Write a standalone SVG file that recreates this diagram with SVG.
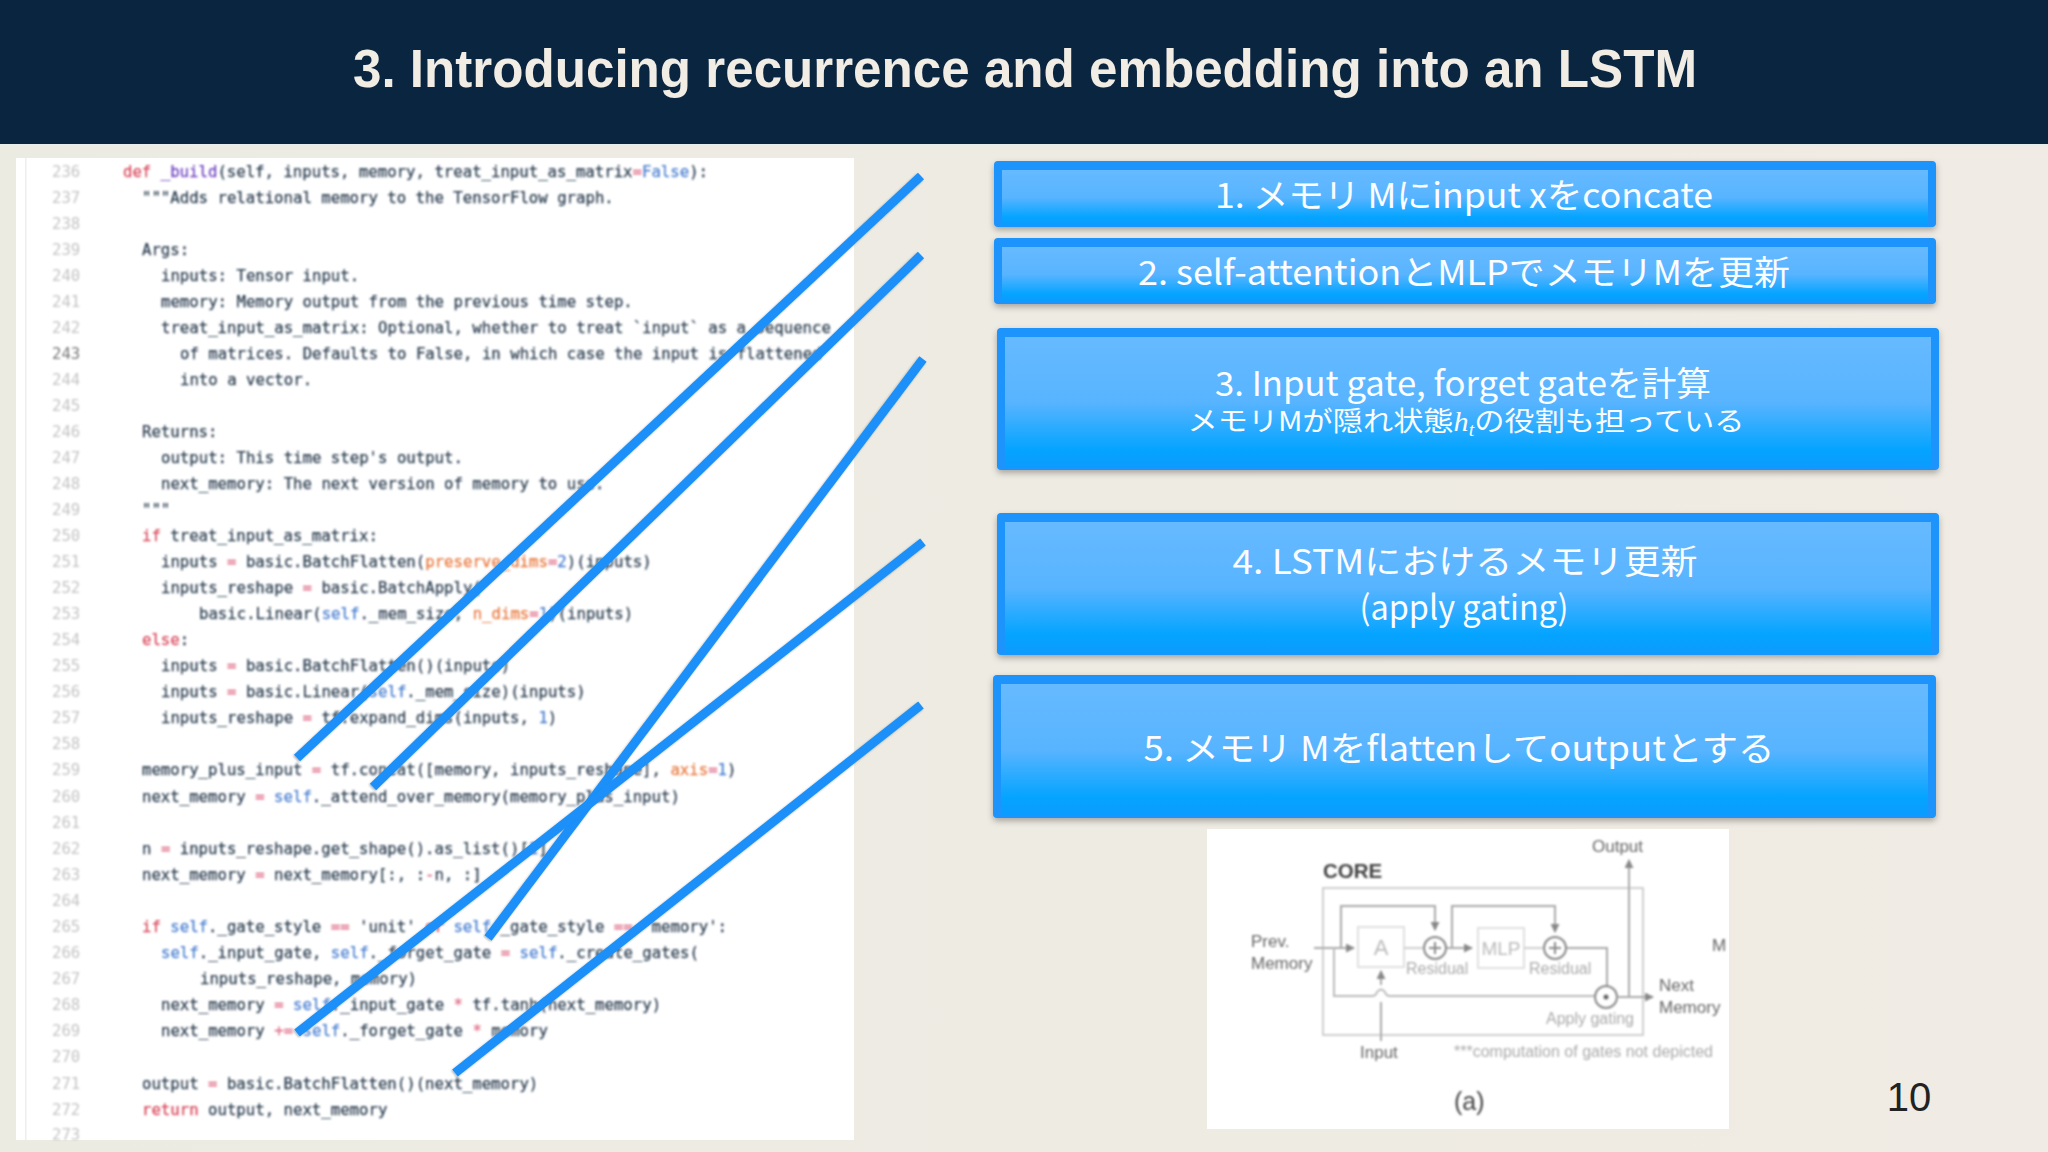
<svg xmlns="http://www.w3.org/2000/svg" width="2048" height="1152" viewBox="0 0 2048 1152">
<style>
.c{font-family:"DejaVu Sans Mono","Liberation Mono",monospace;font-size:15.68px;fill:#2c3e50;stroke:#2c3e50;stroke-width:.25}
.ln{font-family:"DejaVu Sans Mono","Liberation Mono",monospace;font-size:15.68px;fill:#c4c4c4}
.k{fill:#d9485a;stroke:#d9485a}.s{fill:#4a7fd0;stroke:#4a7fd0}.p{fill:#e8793f;stroke:#e8793f}.f{fill:#6f42c1;stroke:#6f42c1}.o{fill:#e0708a;stroke:#e0708a}
.bt{font-family:"Noto Sans CJK JP","Noto Sans",sans-serif;font-weight:400;fill:#fbfdff;text-anchor:middle;font-size:34px}
.d{font-family:"Liberation Sans",Arial,sans-serif;fill:#666;font-size:17px}
.l{font-family:"Liberation Sans",Arial,sans-serif;fill:#aaa;font-size:16px}
.w{fill:none;stroke:#aaa;stroke-width:2}
.lt{fill:none;stroke:#cfcfcf;stroke-width:2}
.vl{fill:none;stroke:#e0e0e0;stroke-width:2}
.r{fill:none;stroke:#8a8a8a;stroke-width:2}
.bl{fill:none;stroke:#1a90f8;stroke-width:9}
.o1{fill:#1a94fb}
</style>
<defs>
<linearGradient id="bg" x1="0" y1="0" x2="1" y2="0"><stop offset="0" stop-color="#ecebe2"/><stop offset="1" stop-color="#f0ebe4"/></linearGradient>
<linearGradient id="bx" x1="0" y1="0" x2="0" y2="1"><stop offset="0" stop-color="#66baff"/><stop offset=".5" stop-color="#58b4ff"/><stop offset=".86" stop-color="#04a4ff"/><stop offset="1" stop-color="#0c9bfe"/></linearGradient>
<filter id="blur" x="-2%" y="-2%" width="104%" height="104%"><feGaussianBlur stdDeviation="0.8"/></filter>
<filter id="blur2" x="-2%" y="-2%" width="104%" height="104%"><feGaussianBlur stdDeviation="0.9"/></filter>
<filter id="sh" x="-3%" y="-10%" width="106%" height="125%"><feDropShadow dx="0" dy="3" stdDeviation="3" flood-color="#000" flood-opacity=".3"/></filter>
<filter id="lsh" x="-5%" y="-5%" width="110%" height="110%"><feDropShadow dx="-1" dy="1" stdDeviation="1.2" flood-color="#000" flood-opacity=".3"/></filter>
<marker id="a" viewBox="0 0 10 10" refX="9" refY="5" markerWidth="4.5" markerHeight="4.5" orient="auto"><path d="M0 0L10 5L0 10Z" fill="#888"/></marker>
</defs>
<rect width="2048" height="1152" fill="url(#bg)"/>
<g id="header"><rect width="2048" height="144" fill="#0a2540"/><rect y="144" width="2048" height="2" fill="#e6edea"/>
<text x="1025" y="87" text-anchor="middle" font-family="Liberation Sans,Arial,sans-serif" font-weight="700" font-size="53" fill="#f1ede5" textLength="1344" lengthAdjust="spacingAndGlyphs">3. Introducing recurrence and embedding into an LSTM</text></g>

<g id="code-panel">
<rect x="16" y="158" width="838" height="982" fill="#fff"/>
<rect x="25" y="158" width="1.5" height="982" fill="#eee"/>
<g filter="url(#blur)">
<text class="ln" x="52" y="177">236</text>
<text class="ln" x="52" y="203">237</text>
<text class="ln" x="52" y="229">238</text>
<text class="ln" x="52" y="255">239</text>
<text class="ln" x="52" y="281">240</text>
<text class="ln" x="52" y="307">241</text>
<text class="ln" x="52" y="333">242</text>
<text class="ln" x="52" y="359" style="fill:#777">243</text>
<text class="ln" x="52" y="385">244</text>
<text class="ln" x="52" y="411">245</text>
<text class="ln" x="52" y="437">246</text>
<text class="ln" x="52" y="463">247</text>
<text class="ln" x="52" y="489">248</text>
<text class="ln" x="52" y="515">249</text>
<text class="ln" x="52" y="541">250</text>
<text class="ln" x="52" y="567">251</text>
<text class="ln" x="52" y="593">252</text>
<text class="ln" x="52" y="619">253</text>
<text class="ln" x="52" y="645">254</text>
<text class="ln" x="52" y="671">255</text>
<text class="ln" x="52" y="697">256</text>
<text class="ln" x="52" y="723">257</text>
<text class="ln" x="52" y="749">258</text>
<text class="ln" x="52" y="775">259</text>
<text class="ln" x="52" y="802">260</text>
<text class="ln" x="52" y="828">261</text>
<text class="ln" x="52" y="854">262</text>
<text class="ln" x="52" y="880">263</text>
<text class="ln" x="52" y="906">264</text>
<text class="ln" x="52" y="932">265</text>
<text class="ln" x="52" y="958">266</text>
<text class="ln" x="52" y="984">267</text>
<text class="ln" x="52" y="1010">268</text>
<text class="ln" x="52" y="1036">269</text>
<text class="ln" x="52" y="1062">270</text>
<text class="ln" x="52" y="1089">271</text>
<text class="ln" x="52" y="1115">272</text>
<text class="ln" x="52" y="1140">273</text>
<text class="c" x="123" y="177"><tspan class="k">def</tspan> <tspan class="f">_build</tspan>(self, inputs, memory, treat_input_as_matrix<tspan class="o">=</tspan><tspan class="s">False</tspan>):</text>
<text class="c" x="142" y="203">"""Adds relational memory to the TensorFlow graph.</text>
<text class="c" x="142" y="255">Args:</text>
<text class="c" x="161" y="281">inputs: Tensor input.</text>
<text class="c" x="161" y="307">memory: Memory output from the previous time step.</text>
<text class="c" x="161" y="333">treat_input_as_matrix: Optional, whether to treat `input` as a sequence</text>
<text class="c" x="180" y="359">of matrices. Defaults to False, in which case the input is flattened</text>
<text class="c" x="180" y="385">into a vector.</text>
<text class="c" x="142" y="437">Returns:</text>
<text class="c" x="161" y="463">output: This time step's output.</text>
<text class="c" x="161" y="489">next_memory: The next version of memory to use.</text>
<text class="c" x="142" y="515">"""</text>
<text class="c" x="142" y="541"><tspan class="k">if</tspan> treat_input_as_matrix:</text>
<text class="c" x="161" y="567">inputs <tspan class="o">=</tspan> basic.BatchFlatten(<tspan class="p">preserve_dims</tspan><tspan class="o">=</tspan><tspan class="s">2</tspan>)(inputs)</text>
<text class="c" x="161" y="593">inputs_reshape <tspan class="o">=</tspan> basic.BatchApply(</text>
<text class="c" x="199" y="619">basic.Linear(<tspan class="s">self</tspan>._mem_size, <tspan class="p">n_dims</tspan><tspan class="o">=</tspan><tspan class="s">1</tspan>)(inputs)</text>
<text class="c" x="142" y="645"><tspan class="k">else</tspan>:</text>
<text class="c" x="161" y="671">inputs <tspan class="o">=</tspan> basic.BatchFlatten()(inputs)</text>
<text class="c" x="161" y="697">inputs <tspan class="o">=</tspan> basic.Linear(<tspan class="s">self</tspan>._mem_size)(inputs)</text>
<text class="c" x="161" y="723">inputs_reshape <tspan class="o">=</tspan> tf.expand_dims(inputs, <tspan class="s">1</tspan>)</text>
<text class="c" x="142" y="775">memory_plus_input <tspan class="o">=</tspan> tf.concat([memory, inputs_reshape], <tspan class="p">axis</tspan><tspan class="o">=</tspan><tspan class="s">1</tspan>)</text>
<text class="c" x="142" y="802">next_memory <tspan class="o">=</tspan> <tspan class="s">self</tspan>._attend_over_memory(memory_plus_input)</text>
<text class="c" x="142" y="854">n <tspan class="o">=</tspan> inputs_reshape.get_shape().as_list()[<tspan class="s">1</tspan>]</text>
<text class="c" x="142" y="880">next_memory <tspan class="o">=</tspan> next_memory[:, :<tspan class="o">-</tspan>n, :]</text>
<text class="c" x="142" y="932"><tspan class="k">if</tspan> <tspan class="s">self</tspan>._gate_style <tspan class="o">==</tspan> 'unit' <tspan class="k">or</tspan> <tspan class="s">self</tspan>._gate_style <tspan class="o">==</tspan> 'memory':</text>
<text class="c" x="161" y="958"><tspan class="s">self</tspan>._input_gate, <tspan class="s">self</tspan>._forget_gate <tspan class="o">=</tspan> <tspan class="s">self</tspan>._create_gates(</text>
<text class="c" x="200" y="984">inputs_reshape, memory)</text>
<text class="c" x="161" y="1010">next_memory <tspan class="o">=</tspan> <tspan class="s">self</tspan>._input_gate <tspan class="o">*</tspan> tf.tanh(next_memory)</text>
<text class="c" x="161" y="1036">next_memory <tspan class="o">+=</tspan> <tspan class="s">self</tspan>._forget_gate <tspan class="o">*</tspan> memory</text>
<text class="c" x="142" y="1089">output <tspan class="o">=</tspan> basic.BatchFlatten()(next_memory)</text>
<text class="c" x="142" y="1115"><tspan class="k">return</tspan> output, next_memory</text>
</g></g>

<g id="connectors" class="bl" filter="url(#lsh)">
<line x1="297" y1="758" x2="921" y2="176"/>
<line x1="373" y1="787" x2="921" y2="255"/>
<line x1="488" y1="938" x2="923" y2="359"/>
<line x1="297" y1="1033" x2="923" y2="542"/>
<line x1="455" y1="1073" x2="921" y2="705"/>
</g>

<g id="step1"><rect class="o1" x="994" y="161" width="942" height="66" rx="4" filter="url(#sh)"/><rect x="1002" y="170" width="926" height="55" fill="url(#bx)"/>
<text class="bt" x="1464" y="208" textLength="498" lengthAdjust="spacingAndGlyphs">1. メモリ Mにinput xをconcate</text></g>
<g id="step2"><rect class="o1" x="994" y="238" width="942" height="66" rx="4" filter="url(#sh)"/><rect x="1002" y="247" width="926" height="55" fill="url(#bx)"/>
<text class="bt" x="1464" y="285" textLength="652" lengthAdjust="spacingAndGlyphs">2. self-attentionとMLPでメモリMを更新</text></g>
<g id="step3"><rect class="o1" x="997" y="328" width="942" height="142" rx="4" filter="url(#sh)"/><rect x="1005" y="337" width="926" height="131" fill="url(#bx)"/>
<text class="bt" x="1463" y="396" textLength="496" lengthAdjust="spacingAndGlyphs">3. Input gate, forget gateを計算</text>
<text class="bt" x="1466" y="431" style="font-size:27px" textLength="557" lengthAdjust="spacingAndGlyphs">メモリMが隠れ状態<tspan font-family="Liberation Serif,serif" font-style="italic">h</tspan><tspan font-family="Liberation Serif,serif" font-style="italic" font-size="18" dy="5">t</tspan><tspan dy="-5">の役割も担っている</tspan></text></g>
<g id="step4"><rect class="o1" x="997" y="513" width="942" height="142" rx="4" filter="url(#sh)"/><rect x="1005" y="522" width="926" height="131" fill="url(#bx)"/>
<text class="bt" x="1465" y="574" textLength="465" lengthAdjust="spacingAndGlyphs">4. LSTMにおけるメモリ更新</text>
<text class="bt" x="1464" y="620" textLength="209" lengthAdjust="spacingAndGlyphs">(apply gating)</text></g>
<g id="step5"><rect class="o1" x="993" y="675" width="943" height="143" rx="4" filter="url(#sh)"/><rect x="1001" y="684" width="927" height="132" fill="url(#bx)"/>
<text class="bt" x="1459" y="761" textLength="631" lengthAdjust="spacingAndGlyphs">5. メモリ Mをflattenしてoutputとする</text></g>

<g id="page-number"><text x="1909" y="1111" text-anchor="middle" font-family="Liberation Sans,Arial,sans-serif" font-size="40" fill="#222">10</text></g>

<g id="core-figure">
<rect x="1207" y="829" width="522" height="300" fill="#fff"/>
<g filter="url(#blur2)">
<rect class="lt" x="1323" y="888" width="320" height="147"/>
<path class="w" d="M1341 948V906H1435V930" marker-end="url(#a)"/>
<path class="w" d="M1452 948V906H1555V932" marker-end="url(#a)"/>
<path class="w" d="M1314 948H1354" marker-end="url(#a)"/>
<rect class="vl" x="1358" y="927" width="46" height="40"/>
<path class="lt" d="M1404 948H1424"/>
<path class="w" d="M1446 948H1472" marker-end="url(#a)"/>
<circle class="r" cx="1435" cy="948" r="11"/>
<path class="r" d="M1429 948H1441M1435 942V954"/>
<rect class="vl" x="1478" y="928" width="46" height="40"/>
<path class="lt" d="M1524 948H1544"/>
<path class="w" d="M1566 948H1607V986"/>
<circle class="r" cx="1555" cy="948" r="11"/>
<path class="r" d="M1549 948H1561M1555 942V954"/>
<path class="lt" style="stroke:#bbb" d="M1334 948V996H1372Q1376 996 1377 992Q1381 987 1385 992Q1386 996 1390 996H1595"/>
<circle class="r" cx="1606" cy="997" r="11"/>
<circle cx="1606" cy="997" r="2.5" fill="#666"/>
<path class="w" d="M1617 997H1653" marker-end="url(#a)"/>
<path class="w" d="M1629 997V860" marker-end="url(#a)"/>
<path class="w" d="M1381 1041V1002"/>
<path class="w" d="M1381 985V971" marker-end="url(#a)"/>
<text x="1323" y="878" font-family="Liberation Sans,Arial,sans-serif" font-weight="700" font-size="20.5" fill="#444">CORE</text>
<text class="d" x="1251" y="947">Prev.</text><text class="d" x="1251" y="969">Memory</text>
<text class="d" x="1592" y="852">Output</text>
<text class="d" x="1659" y="991">Next</text><text class="d" x="1659" y="1013">Memory</text>
<text class="d" x="1712" y="951">M</text>
<text class="d" x="1360" y="1058">Input</text>
<text class="l" x="1406" y="974">Residual</text><text class="l" x="1529" y="974">Residual</text>
<text class="l" x="1546" y="1024" textLength="88">Apply gating</text>
<text class="l" x="1454" y="1057" textLength="259">***computation of gates not depicted</text>
<text class="l" x="1381" y="955" text-anchor="middle" style="font-size:22px;fill:#bbb">A</text>
<text class="l" x="1501" y="955" text-anchor="middle" style="font-size:19px;fill:#bbb">MLP</text>
<text x="1454" y="1110" font-family="Liberation Sans,Arial,sans-serif" font-size="25" fill="#444">(a)</text>
</g></g>
</svg>
